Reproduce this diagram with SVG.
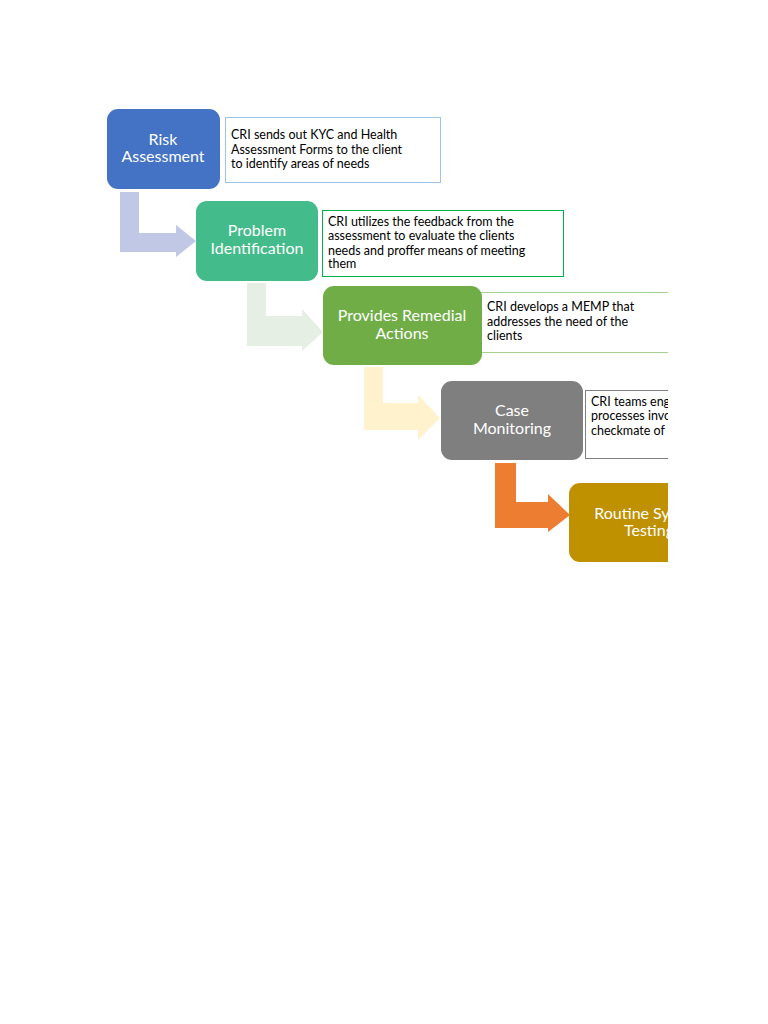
<svg xmlns="http://www.w3.org/2000/svg" width="768" height="1024" viewBox="0 0 768 1024">
<style>
.n{font-family:Lato,"Open Sans",sans-serif;font-size:16px;fill:#fff;text-anchor:middle}
.t{font-family:Lato,"Open Sans",sans-serif;font-size:12.5px;fill:#000}
</style>
<defs><clipPath id="c"><rect x="0" y="0" width="668" height="1024"/></clipPath></defs>
<rect width="768" height="1024" fill="#fff"/>
<g clip-path="url(#c)">
<g id="connectors">
<path d="M120,192H139V233H176V225L196,241L176,257V252H120Z" fill="#c1c8e6"/>
<path d="M247,283H266V316H302V309L323,332L302,351V346H247Z" fill="#e6efe4"/>
<path d="M364,367H383V403H418V395L440,418L418,440V430H364Z" fill="#fff2cc"/>
<path d="M495,463H516V502H548V494L570,515L548,532V528H495Z" fill="#ed7d31"/>
</g>
<g id="n1"><rect x="107" y="109" width="113" height="80" rx="11" fill="#4472c4"/><text class="n" x="163" y="145">Risk</text><text class="n" x="163" y="162">Assessment</text></g>
<g id="b1"><rect x="225.5" y="117.5" width="215" height="65" fill="#fff" stroke="#9dc3e6"/><text class="t" x="231" y="139">CRI sends out KYC and Health</text><text class="t" x="231" y="154">Assessment Forms to the client</text><text class="t" x="231" y="168">to identify areas of needs</text></g>
<g id="n2"><rect x="196" y="201" width="122" height="80" rx="11" fill="#44bb8a"/><text class="n" x="257" y="236">Problem</text><text class="n" x="257" y="254">Identification</text></g>
<g id="b2"><rect x="322.5" y="210.5" width="241" height="66" fill="#fff" stroke="#00b050"/><text class="t" x="328" y="226">CRI utilizes the feedback from the</text><text class="t" x="328" y="240">assessment to evaluate the clients</text><text class="t" x="328" y="255">needs and proffer means of meeting</text><text class="t" x="328" y="268">them</text></g>
<g id="b3"><rect x="440.5" y="292.5" width="260" height="60" fill="#fff" stroke="#a9d18e"/><text class="t" x="487" y="311">CRI develops a MEMP that</text><text class="t" x="487" y="326">addresses the need of the</text><text class="t" x="487" y="340">clients</text></g>
<g id="n3"><rect x="323" y="286" width="159" height="79" rx="11" fill="#70ad47"/><text class="n" x="402" y="321">Provides Remedial</text><text class="n" x="402" y="339">Actions</text></g>
<g id="b4"><rect x="585.5" y="390.5" width="120" height="68" fill="#fff" stroke="#7f7f7f"/><text class="t" x="591" y="406">CRI teams engage</text><text class="t" x="591" y="420">processes involved</text><text class="t" x="591" y="435">checkmate of</text></g>
<g id="n4"><rect x="441" y="381" width="142" height="79" rx="11" fill="#7f7f7f"/><text class="n" x="512" y="416">Case</text><text class="n" x="512" y="434">Monitoring</text></g>
<g id="n5"><rect x="569" y="483" width="160" height="79" rx="11" fill="#bf9000"/><text class="n" x="649" y="519">Routine System</text><text class="n" x="649" y="536">Testing</text></g>
</g>
</svg>
